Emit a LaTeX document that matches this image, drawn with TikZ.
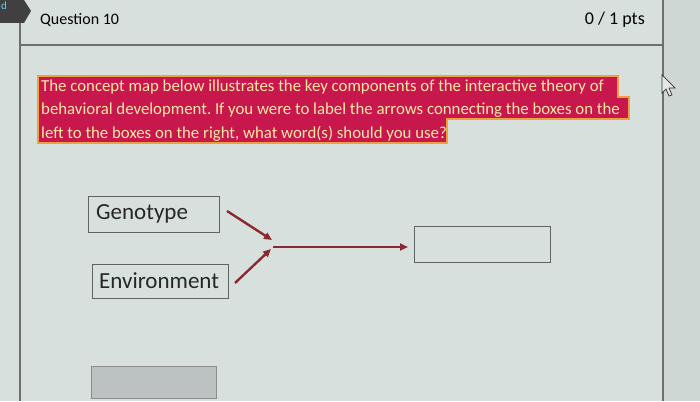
\documentclass[tikz,border=0pt]{standalone}
\usepackage{fontspec}
\setmainfont{Carlito}
\frenchspacing
\usetikzlibrary{arrows.meta}
\definecolor{bgc}{HTML}{D8E0DD}
\definecolor{framec}{HTML}{6A7072}
\definecolor{hlc}{HTML}{C8174C}
\definecolor{hledge}{HTML}{F0A040}
\definecolor{hltext}{HTML}{FFE9A6}
\definecolor{arrc}{HTML}{8A2A2E}
\definecolor{boxc}{HTML}{5E6466}
\definecolor{btnc}{HTML}{BCC2C2}
\tikzset{
  conbox/.style={draw=boxc, line width=1.2pt, inner sep=0pt, anchor=north west},
  conlabel/.style={font=\fontsize{23}{26}\selectfont, text=black!85, anchor=west, inner sep=0pt},
  hlline/.style={font=\fontsize{16.8}{20}\selectfont, text=hltext, anchor=base west, inner sep=0pt},
  conarrow/.style={draw=arrc, line width=2.4pt, -{Triangle[length=8pt,width=7pt]}},
}
\begin{document}
\begin{tikzpicture}[x=1pt,y=-1pt]
\useasboundingbox (0,0) rectangle (700,401);
\fill[bgc] (0,0) rectangle (700,401);
\fill[bgc!96!black] (664,0) rectangle (700,401);
% frame
\draw[framec, line width=1.2pt] (20,0) -- (20,401);
\draw[framec, line width=1.2pt] (663,0) -- (663,401);
\draw[framec, line width=1.4pt] (20,45) -- (663,45);
% top-left tab
\fill[black!75] (0,0) -- (24,0) -- (31,11) -- (24,23) -- (0,23) -- cycle;
\node[font=\fontsize{11}{12}\selectfont, text=cyan!60!white, inner sep=0pt] (tabtxt) at (4,6) {d};
% header texts
\node[font=\fontsize{16}{18}\selectfont, anchor=west, inner sep=0pt] (qtitle) at (40,20) {Question 10};
\node[font=\fontsize{18}{20}\selectfont, anchor=east, inner sep=0pt] (pts) at (645,20) {0 / 1 pts};
% highlight
\fill[hlc, draw=hledge, line width=1.2pt] (38,76) -- (618,76) -- (618,97) -- (629,97) -- (629,119) -- (447,119) -- (447,143) -- (38,143) -- cycle;
\node[hlline] (l1) at (41,92) {The concept map below illustrates the key components of the interactive theory of};
\node[hlline] (l2) at (41,114) {behavioral development. If you were to label the arrows connecting the boxes on the};
\node[hlline] (l3) at (41,138) {left to the boxes on the right, what word(s) should you use?};
% cursor
\draw[black!80, fill=bgc!70!white, line width=0.7pt] (662,75) -- (662,93) -- (666,89) -- (669,96) -- (672,95) -- (669,88) -- (675,88) -- cycle;
% boxes
\node[conbox, minimum width=131pt, minimum height=36pt] (geno) at (88,196) {};
\node[conlabel] (genotxt) at (96,214) {Genotype};
\node[conbox, minimum width=136pt, minimum height=34pt] (env) at (92,264) {};
\node[conlabel] (envtxt) at (99,281) {Environment};
\node[conbox, minimum width=136pt, minimum height=36pt] (result) at (414,226) {};
\coordinate (jtop) at (272,240);
\coordinate (jbot) at (271,249);
\coordinate (jmid) at (273,247);
\coordinate (gstart) at (227,211);
\coordinate (estart) at (235,283);
\draw[conarrow] (gstart) -- (jtop);
\draw[conarrow] (estart) -- (jbot);
\draw[conarrow, shorten >=6pt] (jmid) -- (result.west |- jmid);
% button
\node[draw=black!45, fill=btnc, line width=1pt, minimum width=125pt, minimum height=32pt, anchor=north west, inner sep=0pt] (btn) at (91,366) {};
\end{tikzpicture}
\end{document}
